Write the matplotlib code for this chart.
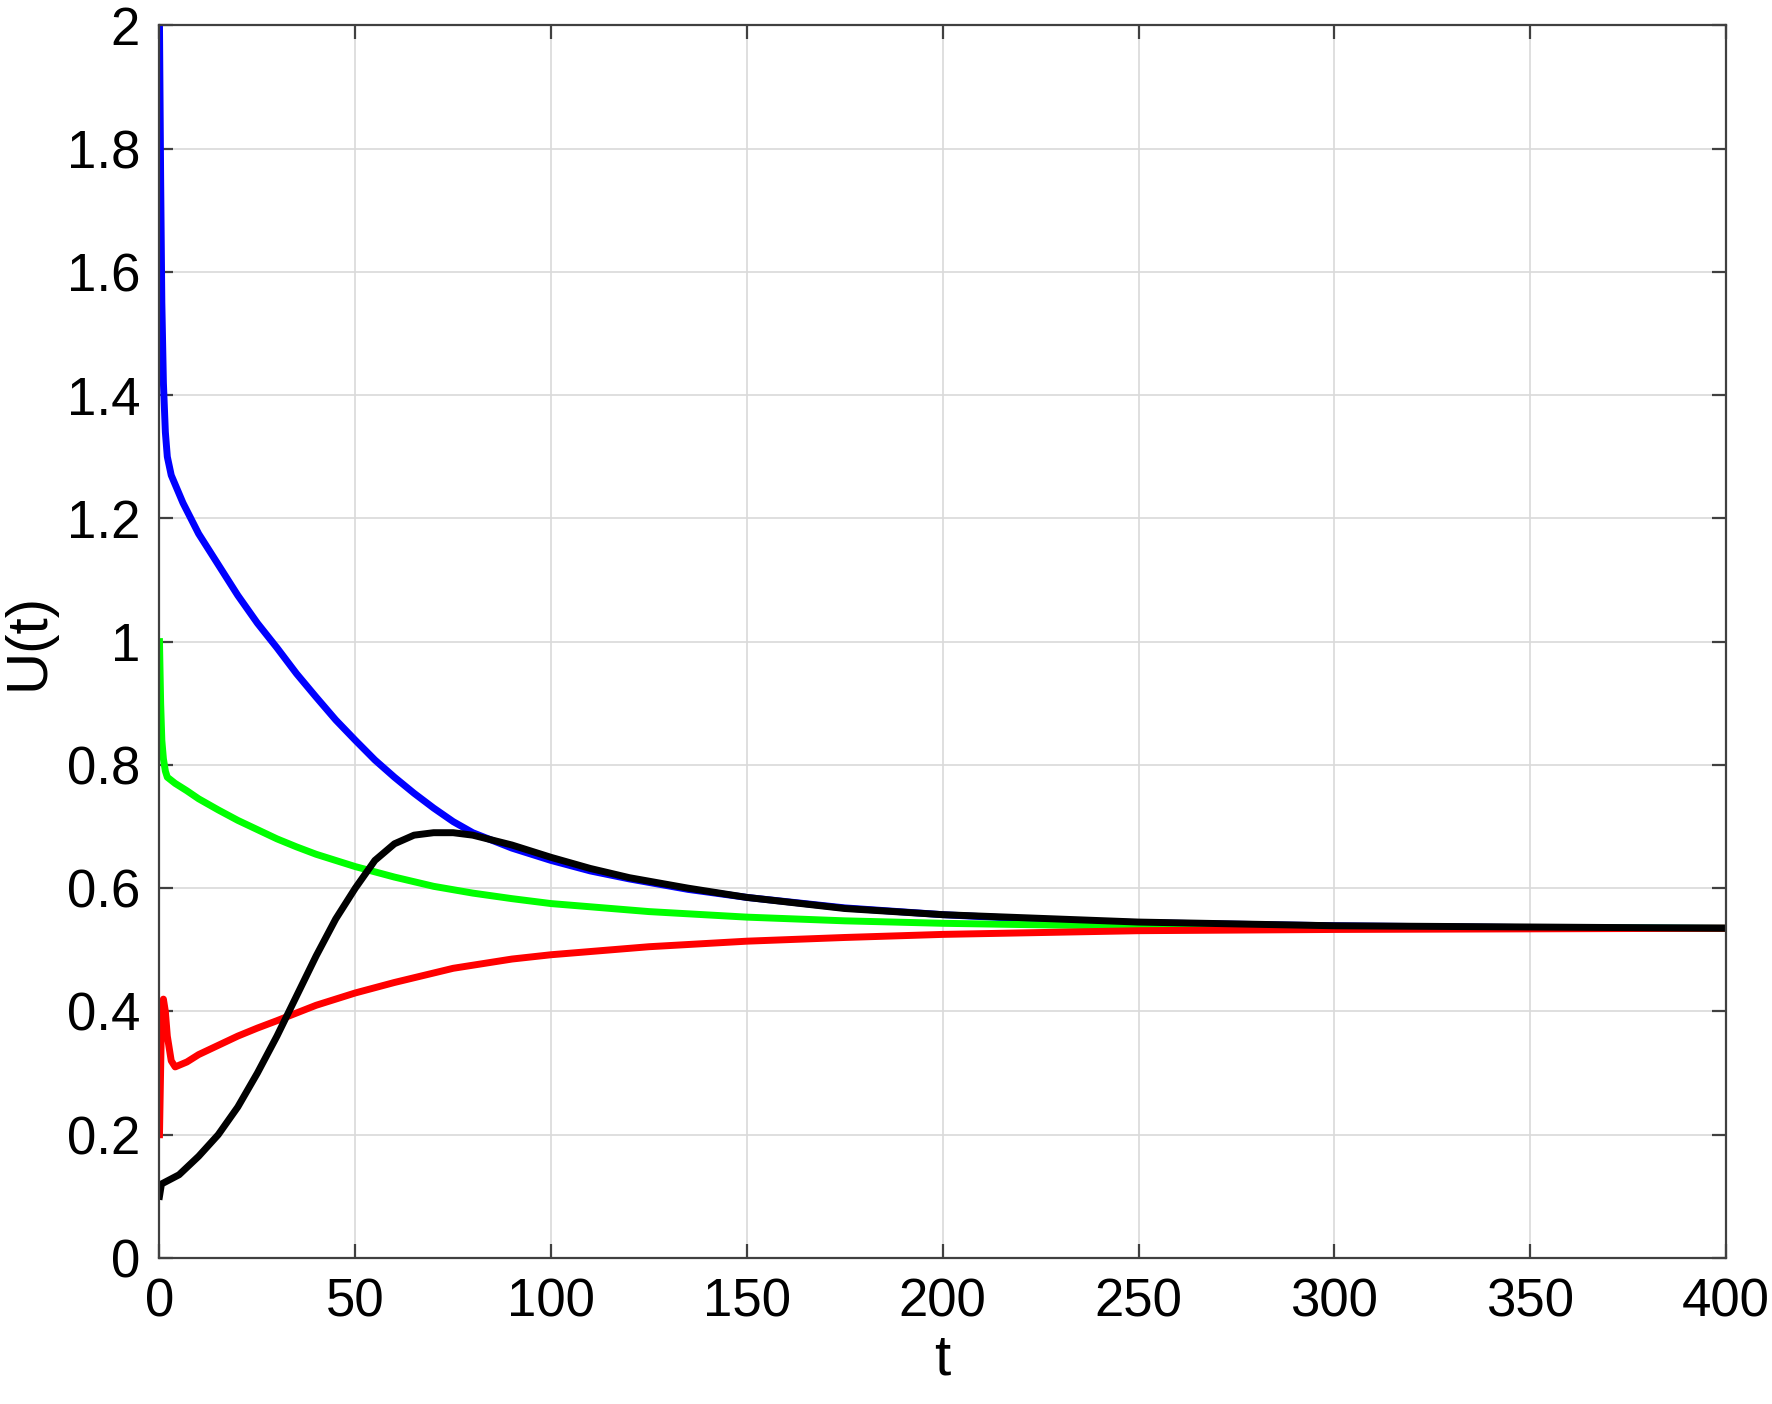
import matplotlib
matplotlib.use('Agg')
import matplotlib.pyplot as plt

t_blue = [0, 0.3, 0.6, 1, 1.5, 2, 3, 4, 6, 10, 15, 20, 25, 30, 35, 40, 45, 50, 55, 60, 65, 70, 75, 80, 90, 100, 110, 120, 135, 150, 175, 200, 225, 250, 300, 350, 400]
u_blue = [2.0, 1.75, 1.55, 1.42, 1.34, 1.3, 1.27, 1.255, 1.225, 1.175, 1.125, 1.075, 1.03, 0.99, 0.948, 0.91, 0.873, 0.84, 0.808, 0.78, 0.754, 0.73, 0.708, 0.69, 0.665, 0.645, 0.628, 0.615, 0.598, 0.585, 0.568, 0.557, 0.549, 0.544, 0.539, 0.536, 0.535]

t_green = [0, 0.3, 0.6, 1, 1.5, 2, 4, 7, 10, 15, 20, 25, 30, 35, 40, 50, 60, 70, 80, 90, 100, 125, 150, 175, 200, 250, 300, 400]
u_green = [1.0, 0.9, 0.84, 0.81, 0.79, 0.78, 0.77, 0.758, 0.745, 0.727, 0.71, 0.695, 0.68, 0.667, 0.655, 0.635, 0.618, 0.603, 0.592, 0.583, 0.575, 0.562, 0.553, 0.547, 0.543, 0.538, 0.536, 0.535]

t_red = [0, 0.5, 1, 1.5, 2, 3, 4, 7, 10, 15, 20, 25, 30, 40, 50, 60, 75, 90, 100, 125, 150, 175, 200, 250, 300, 400]
u_red = [0.2, 0.38, 0.42, 0.4, 0.36, 0.32, 0.31, 0.318, 0.33, 0.345, 0.36, 0.373, 0.385, 0.41, 0.43, 0.447, 0.47, 0.485, 0.492, 0.505, 0.514, 0.52, 0.525, 0.531, 0.533, 0.535]

t_black = [0, 0.5, 2, 5, 10, 15, 20, 25, 30, 35, 40, 45, 50, 55, 60, 65, 70, 75, 80, 90, 100, 110, 120, 135, 150, 175, 200, 250, 300, 400]
u_black = [0.1, 0.12, 0.125, 0.135, 0.165, 0.2, 0.245, 0.3, 0.36, 0.425, 0.49, 0.55, 0.6, 0.645, 0.672, 0.686, 0.69, 0.69, 0.686, 0.67, 0.65, 0.632, 0.617, 0.6, 0.585, 0.567, 0.557, 0.545, 0.539, 0.535]

plt.rcParams['font.family'] = ['Liberation Sans', 'DejaVu Sans']
fig = plt.figure(figsize=(8.86, 7.02), dpi=200)
ax = fig.add_axes([0.09, 0.104, 0.884, 0.878])

ax.plot(t_blue, u_blue, color='#0000ff', lw=2.5)
ax.plot(t_green, u_green, color='#00ff00', lw=2.5)
ax.plot(t_red, u_red, color='#ff0000', lw=2.5)
ax.plot(t_black, u_black, color='black', lw=2.5)

ax.set_xlim(0, 400)
ax.set_ylim(0, 2)
ax.set_xticks(range(0, 401, 50))
ax.set_yticks([i / 5 for i in range(11)])
ax.set_yticklabels(['0', '0.2', '0.4', '0.6', '0.8', '1', '1.2', '1.4', '1.6', '1.8', '2'])
ax.grid(True, color='#d9d9d9', lw=0.6)
ax.tick_params(direction='in', top=True, right=True, labelsize=19, length=5, color='#404040', pad=7)
for s in ax.spines.values():
    s.set_color('#404040')
    s.set_linewidth(0.8)
ax.set_xlabel('t', fontsize=21, labelpad=2)
ax.set_ylabel('U(t)', fontsize=21, labelpad=4)

fig.savefig('out.png')
